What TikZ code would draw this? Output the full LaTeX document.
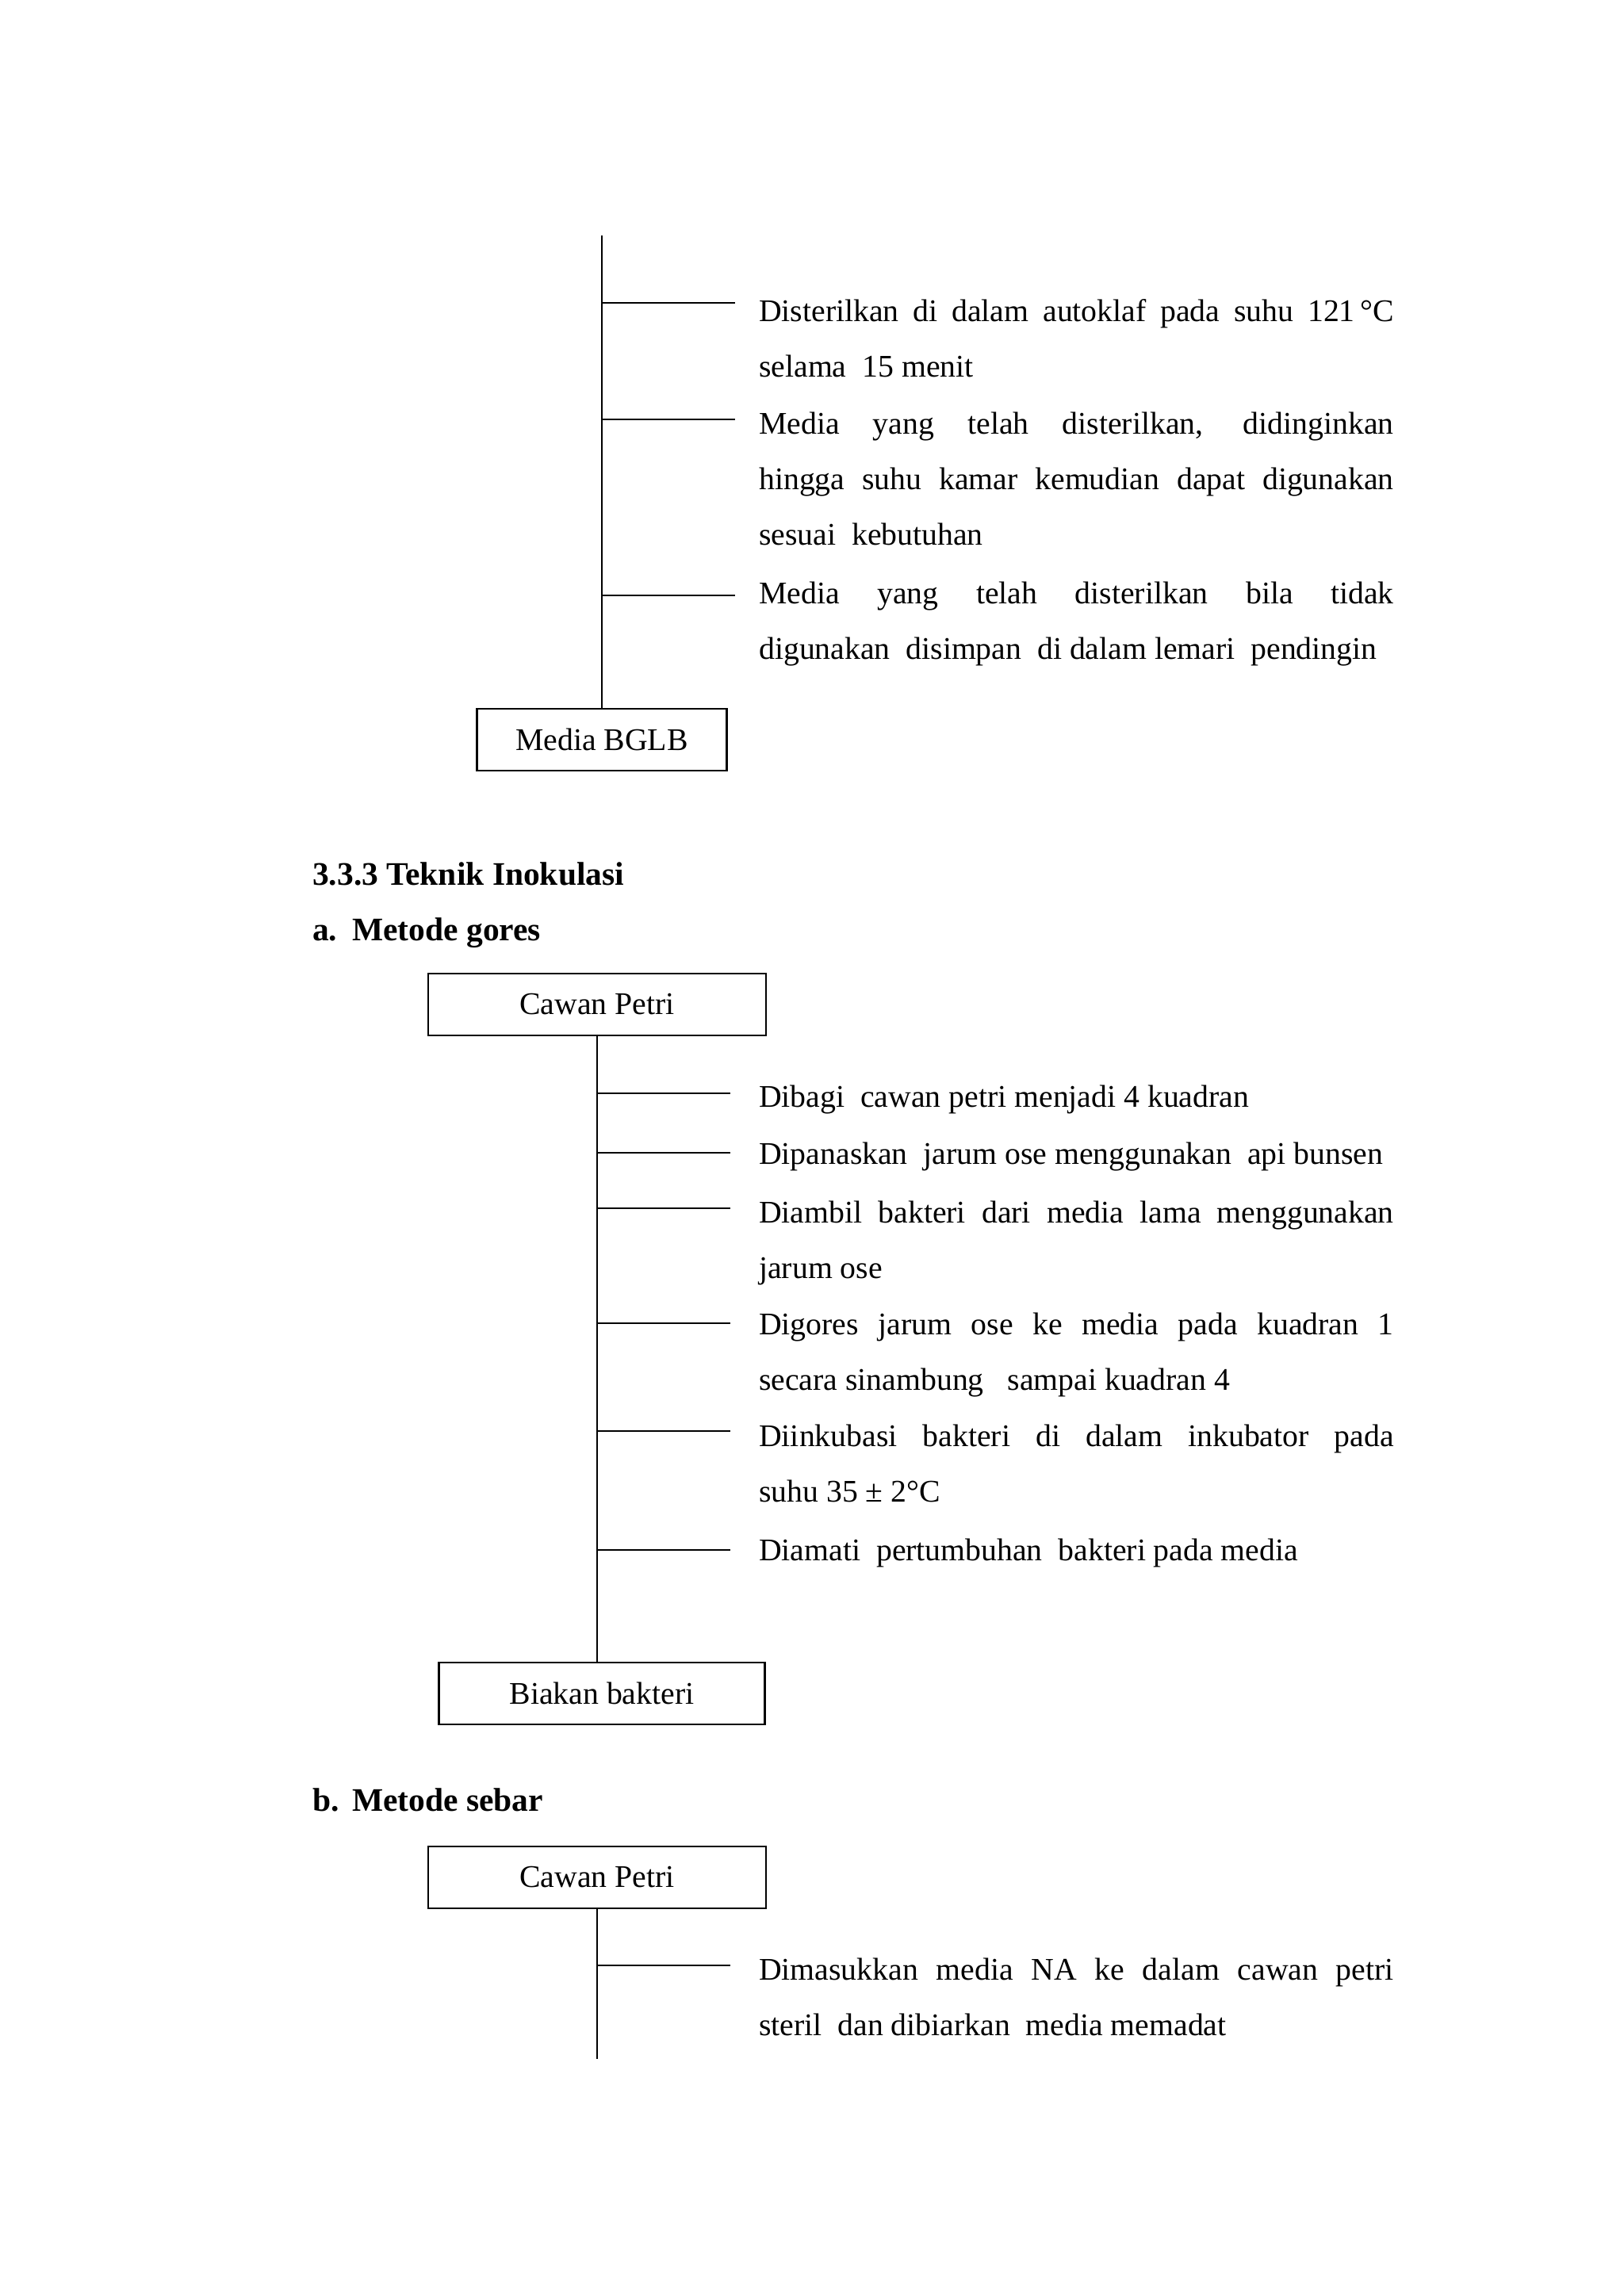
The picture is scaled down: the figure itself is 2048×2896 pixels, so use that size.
\documentclass[tikz,border=0pt]{standalone}
\usepackage{fontspec}
\setmainfont{Liberation Serif}
\tikzset{
	kotak/.style={draw, minimum height=.78cm, inner sep=0pt},
	ket/.style={anchor=base west, inner sep=0pt, text width=8.0cm, align=justify},
	judul/.style={anchor=base west, inner sep=0pt, font=\fontsize{11.8}{20}\selectfont\bfseries},
}
\begin{document}
\begin{tikzpicture}[x=.01cm, y=-.01cm, line width=.7pt, font=\fontsize{11.3}{20}\selectfont]
	\useasboundingbox (0,0) rectangle (2048,2896);
	
	% media BGLB
	\node[kotak, minimum width=3.15cm] (bglb) at (759,933) {Media BGLB};
	\coordinate (bglbtop) at (759,297);
	\draw (bglbtop)--(bglb.north);
	\foreach \y [count=\i] in {382,529,751}
		\draw (bglb.north |- 0,\y) coordinate (b\i) -- ++(168,0);
	\node[ket] (m1) at (956,405) {Disterilkan di dalam autoklaf pada suhu 121\,°C\linebreak selama~ 15 menit};
	\node[ket] (m2) at (956,547) {Media yang telah disterilkan, didinginkan\linebreak hingga suhu kamar kemudian dapat digunakan\linebreak sesuai~ kebutuhan};
	\node[ket] (m3) at (956,761) {Media yang telah disterilkan bila tidak\linebreak digunakan~ disimpan~ di dalam lemari~ pendingin};
	
	\node[judul] (sub) at (393,1116) {3.3.3 Teknik Inokulasi};
	\node[judul] (ha) at (393,1186) {\makebox[.5cm][l]{a.}Metode gores};
	
	% metode gores
	\node[kotak, minimum width=4.26cm] (petria) at (753,1267) {Cawan Petri};
	\node[kotak, minimum width=4.11cm] (biakan) at (759,2136) {Biakan bakteri};
	\draw (petria.south)--(petria.south |- biakan.north);
	\foreach \y [count=\i] in {1379,1454,1524,1669,1805,1955}
		\draw (petria.south |- 0,\y) coordinate (a\i) -- ++(168,0);
	\node[ket] (g1) at (956,1396) {Dibagi~ cawan petri menjadi 4 kuadran};
	\node[ket] (g2) at (956,1468) {Dipanaskan~ jarum ose menggunakan~ api bunsen};
	\node[ket] (g3) at (956,1542) {Diambil bakteri dari media lama menggunakan\linebreak jarum ose};
	\node[ket] (g4) at (956,1683) {Digores jarum ose ke media pada kuadran 1\linebreak secara sinambung~~ sampai kuadran 4};
	\node[ket] (g5) at (956,1824) {Diinkubasi bakteri di dalam inkubator pada\linebreak suhu 35 ± 2°C};
	\node[ket] (g6) at (956,1968) {Diamati~ pertumbuhan~ bakteri pada media};
	
	\node[judul] (hb) at (393,2284) {\makebox[.5cm][l]{b.}Metode sebar};
	
	% metode sebar
	\node[kotak, minimum width=4.26cm] (petrib) at (753,2368) {Cawan Petri};
	\coordinate (sebarend) at (753,2597);
	\draw (petrib.south)--(sebarend);
	\draw (petrib.south |- 0,2479) coordinate (c1) -- ++(168,0);
	\node[ket] (s1) at (956,2497) {Dimasukkan media NA ke dalam cawan petri\linebreak steril~ dan dibiarkan~ media memadat};
	
\end{tikzpicture}
\end{document}
